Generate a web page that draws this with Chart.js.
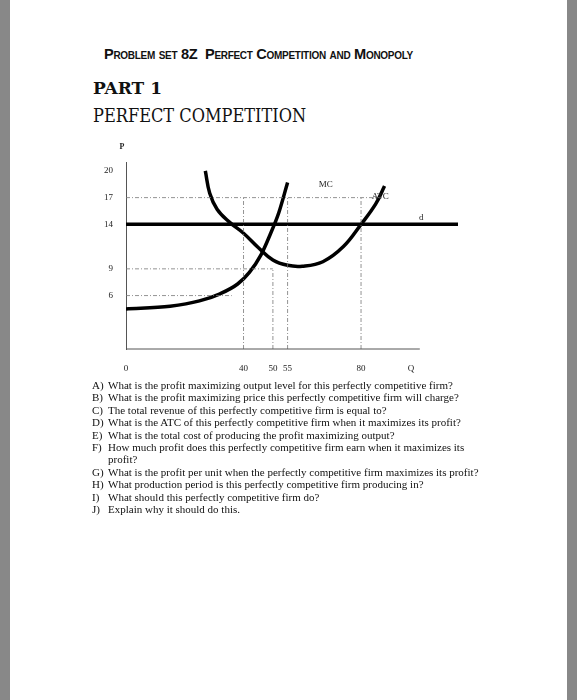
<!DOCTYPE html>
<html><head><meta charset="utf-8">
<script src="https://cdn.jsdelivr.net/npm/chart.js@4"></script>
<style>
body{margin:0;width:577px;height:700px;background:#888;position:relative;overflow:hidden;font-family:"Liberation Serif",serif}
#page{position:absolute;left:10px;top:0;width:557px;height:700px;background:#fff}
.t{position:absolute;white-space:nowrap;color:#111}
#cw{position:absolute;left:90px;top:140px;width:390px;height:245px}
ol{position:absolute;left:92px;top:379px;margin:0;padding:0;list-style:none;font-size:11px;line-height:12.4px;color:#111}
ol li{padding-left:16px;text-indent:-16px;width:372px}
ol li b{font-weight:normal;display:inline-block;width:16px;text-indent:0}
</style></head><body>
<div id="page"></div>
<div class="t" style="left:104px;top:46px;font-family:'Liberation Sans',sans-serif;font-weight:bold;font-size:14.6px;font-variant:small-caps;letter-spacing:-0.3px">Problem set 8Z&nbsp; Perfect Competition and Monopoly</div>
<div class="t" style="left:93px;top:78px;font-family:'DejaVu Serif',serif;font-weight:bold;font-size:17px">PART 1</div>
<div class="t" style="left:93px;top:105px;font-family:'DejaVu Serif Condensed','DejaVu Serif',serif;font-size:18px">PERFECT COMPETITION</div>
<div id="cw"><canvas id="c"></canvas></div>
<ol>
<li><b>A)</b>What is the profit maximizing output level for this perfectly competitive firm?</li>
<li><b>B)</b>What is the profit maximizing price this perfectly competitive firm will charge?</li>
<li><b>C)</b>The total revenue of this perfectly competitive firm is equal to?</li>
<li><b>D)</b>What is the ATC of this perfectly competitive firm when it maximizes its profit?</li>
<li><b>E)</b>What is the total cost of producing the profit maximizing output?</li>
<li><b>F)</b>How much profit does this perfectly competitive firm earn when it maximizes its profit?</li>
<li><b>G)</b>What is the profit per unit when the perfectly competitive firm maximizes its profit?</li>
<li><b>H)</b>What production period is this perfectly competitive firm producing in?</li>
<li><b>I)</b>What should this perfectly competitive firm do?</li>
<li><b>J)</b>Explain why it should do this.</li>
</ol>
<script>
const xTicks=[0,40,50,55,80];
const qTick=97;
const yTicks=[6,9,14,17,20];
const mcX=[0,15,25,32,38,42,46,49,52,55];
const mcY=[4.5,4.8,5.4,6.2,7.3,8.6,10.6,12.8,15.3,18.7];
const atcX=[27,28.5,31,35,40,45,50,55,60,67,74,80,85,88];
const atcY=[20,17.5,15.7,14.3,13,11.4,10,9.4,9.3,9.8,11.5,14,16.3,18.3];
const dX=[0,113];
const dY=[14,14];
const guides=[[[0,88],[17,17]],[[0,50],[9,9]],[[0,36],[6,6]],[[40,40],[0,17]],[[50,50],[0,9]],[[55,55],[0,17]],[[80,80],[0,17]]];
const pts=(xs,ys)=>xs.map((x,i)=>({x,y:ys[i]}));
const ds=[];
guides.forEach(g=>ds.push({data:pts(g[0],g[1]),borderColor:'#777',borderWidth:0.8,borderDash:[4,2,1,2],pointRadius:0,tension:0}));
ds.push({data:pts(mcX,mcY),borderColor:'#000',borderWidth:3.5,pointRadius:0,cubicInterpolationMode:'monotone'});
ds.push({data:pts(atcX,atcY),borderColor:'#000',borderWidth:3.5,pointRadius:0,tension:0.4});
ds.push({data:pts(dX,dY),borderColor:'#000',borderWidth:3.5,pointRadius:0});
const font={family:'Liberation Serif',size:9};
const labels={id:'lbl',afterDraw(ch){const c=ch.ctx,x=ch.scales.x,y=ch.scales.y;
 c.save();c.strokeStyle='#555';c.lineWidth=1;c.beginPath();c.moveTo(x.getPixelForValue(0),y.getPixelForValue(0));c.lineTo(x.getPixelForValue(100),y.getPixelForValue(0));c.stroke();
 c.fillStyle='#222';c.font='9px Liberation Serif';c.textAlign='center';c.textBaseline='middle';
 c.fillText('MC',x.getPixelForValue(68),y.getPixelForValue(18.5));
 c.fillText('ATC',x.getPixelForValue(86.5),y.getPixelForValue(17.1));
 c.fillText('d',x.getPixelForValue(100.5),y.getPixelForValue(14.7));
 c.font='bold 8px Liberation Serif';c.fillText('P',32,7);
 c.restore();}};
new Chart(document.getElementById('c'),{type:'line',data:{datasets:ds},plugins:[labels],
options:{responsive:true,maintainAspectRatio:false,animation:false,layout:{padding:{top:22,right:22,left:0,bottom:0}},
plugins:{legend:{display:false},tooltip:{enabled:false}},
scales:{
x:{type:'linear',min:0,max:113,grid:{display:false},border:{display:false},
 afterBuildTicks:s=>{s.ticks=xTicks.concat([qTick]).map(v=>({value:v}))},
 afterFit:s=>{s.height=36},
 ticks:{font,color:'#222',padding:6,maxRotation:0,autoSkip:false,callback:v=>v===qTick?'Q':String(v)}},
y:{type:'linear',min:0,max:21,grid:{display:false},border:{display:true,color:'#555',width:1},
 afterBuildTicks:s=>{s.ticks=yTicks.map(v=>({value:v}))},
 afterFit:s=>{s.width=36},
 ticks:{font,color:'#222',padding:5,autoSkip:false}}}}});
</script></body></html>
